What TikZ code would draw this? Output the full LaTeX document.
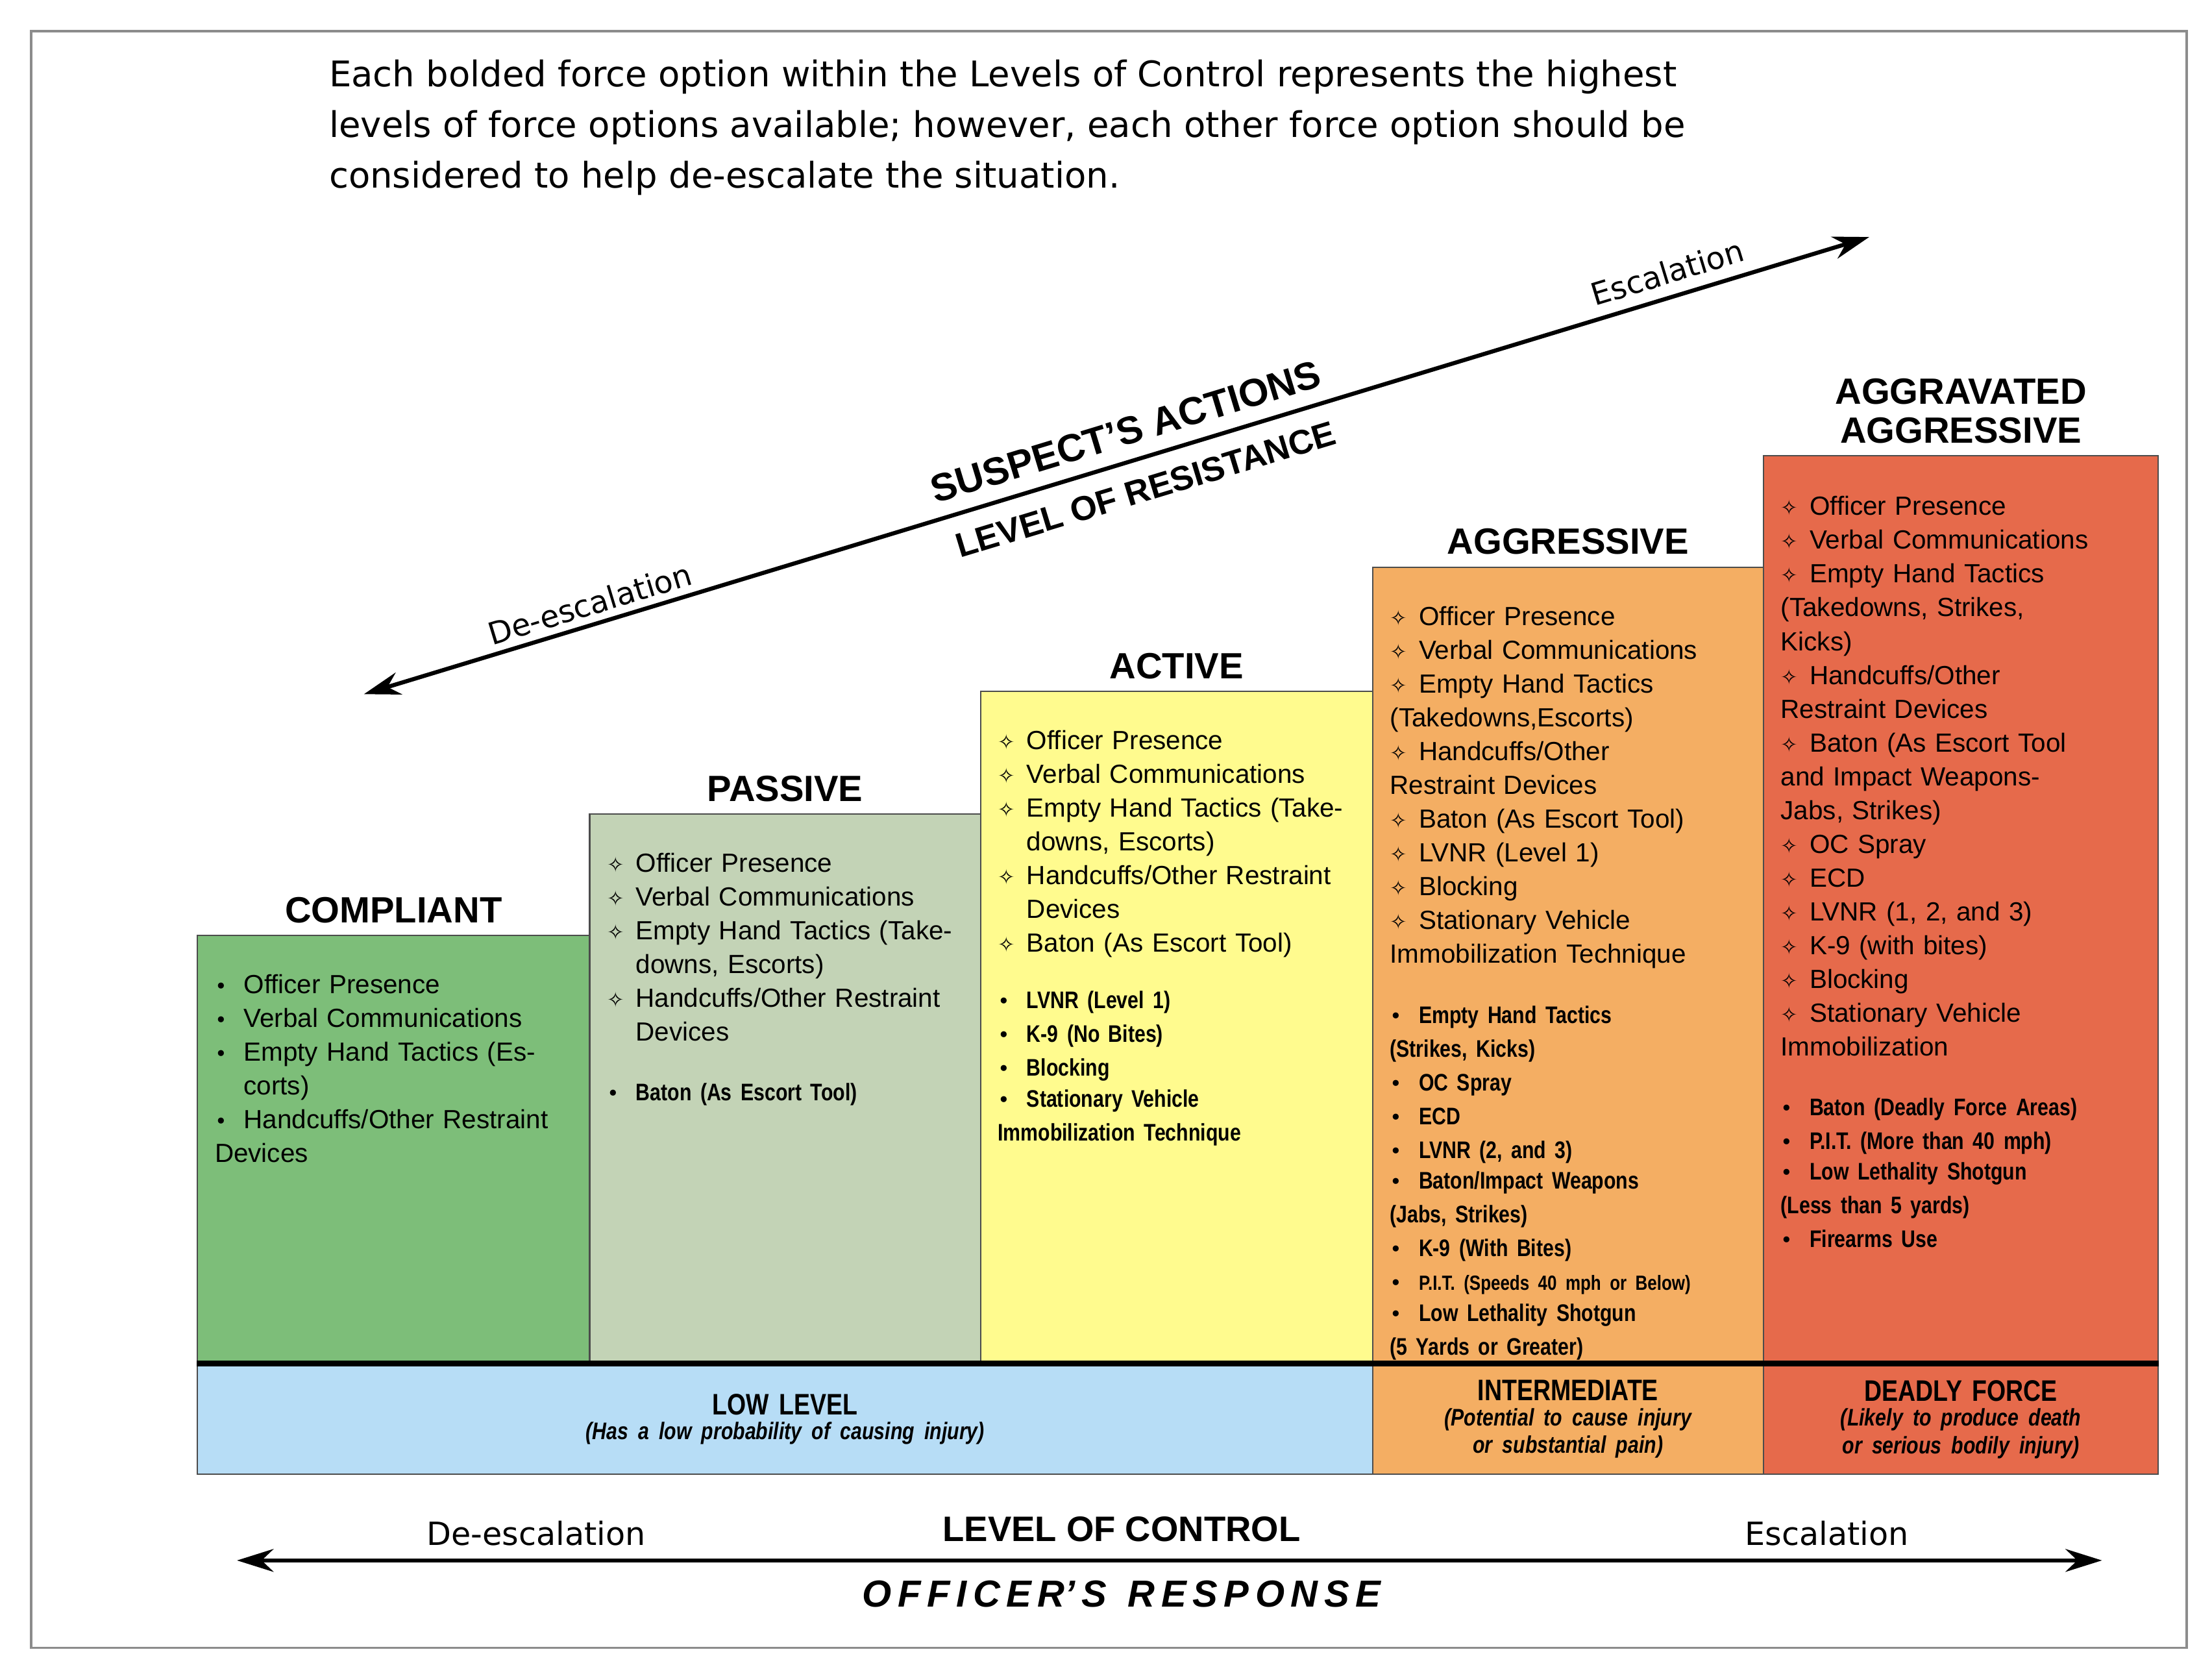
\documentclass[tikz,border=0pt]{standalone}
\usepackage{fontspec}
\setmainfont{Liberation Sans}
\newfontfamily\headfont{DejaVu Sans}
\newfontfamily\symfont{DejaVu Sans}
\newfontfamily\narrowfont[FakeStretch=0.82]{Liberation Sans}
\usepackage{tikz}
\usetikzlibrary{arrows.meta, positioning, fit}
\definecolor{compgreen}{HTML}{7DBE79}
\definecolor{passgrey}{HTML}{C3D3B6}
\definecolor{actyellow}{HTML}{FFFB8E}
\definecolor{aggorange}{HTML}{F4AE63}
\definecolor{aggred}{HTML}{E66A4B}
\definecolor{lowblue}{HTML}{B7DDF6}
\tikzstyle{colbox} = [rectangle, draw=black!70, line width=0.6pt, inner sep=0pt]
\tikzstyle{coltitle} = [font=\fontsize{16}{17}\selectfont\bfseries, align=center, inner sep=2pt]
\tikzstyle{optlist} = [anchor=north west, text width=5.6cm, align=left, inner sep=0pt, font=\fontsize{11.5}{14.8}\selectfont]
\tikzstyle{levelbox} = [text width=5.6cm, align=center, font=\narrowfont\bfseries\fontsize{13}{13}\selectfont]
\tikzstyle{arrow} = [line width=1.8pt, {Stealth[length=16pt,width=10pt]}-{Stealth[length=16pt,width=10pt]}]
\newcommand{\optitem}[1]{\par\hangindent=1.1em\hangafter=1\noindent\makebox[1.1em][l]{\symfont\small ✧}#1}
\newcommand{\boldopt}[1]{\par\hangindent=1.1em\hangafter=1\noindent\makebox[1.1em][l]{\symfont\small •}{\narrowfont\bfseries\fontsize{10.5}{13.5}\selectfont #1}}
\newcommand{\dotitem}[1]{\par\hangindent=1.1em\hangafter=1\noindent\makebox[1.1em][l]{\symfont\small •}#1}
\newcommand{\levelnote}[1]{\par\vspace{-1pt}{\itshape\fontsize{10.5}{12}\selectfont #1\par}}
\begin{document}
\begin{tikzpicture}[x=0.021735cm, y=-0.021735cm]
    \useasboundingbox (0,0) rectangle (1568,1189);
    \draw[black!45, line width=1pt] (22,22) rectangle (1550,1168);

    % Heading text
    \node[anchor=north west, align=left, inner sep=0pt, font=\headfont\fontsize{15.5}{22.2}\selectfont] (intro) at (233,42)
        {Each bolded force option within the Levels of Control represents the highest\\
         levels of force options available; however, each other force option should be\\
         considered to help de-escalate the situation.};

    % Resistance columns
    \node[colbox, fill=compgreen, fit={(140,663) (418,967)}] (compliant) {};
    \node[colbox, fill=passgrey, fit={(418,577) (695,967)}] (passive) {};
    \node[colbox, fill=actyellow, fit={(695,490) (973,967)}] (active) {};
    \node[colbox, fill=aggorange, fit={(973,402) (1250,967)}] (aggressive) {};
    \node[colbox, fill=aggred, fit={(1250,323) (1530,967)}] (aggravated) {};

    \node[coltitle, above=3pt of compliant] (tcomp) {COMPLIANT};
    \node[coltitle, above=3pt of passive] (tpass) {PASSIVE};
    \node[coltitle, above=3pt of active] (tact) {ACTIVE};
    \node[coltitle, above=3pt of aggressive] (tagg) {AGGRESSIVE};
    \node[coltitle, above=3pt of aggravated] (tagv) {AGGRAVATED\\AGGRESSIVE};

    % Force options
    \node[optlist] (lcomp) at (152,680) {%
        \dotitem{Officer Presence}\dotitem{Verbal Communications}
        \dotitem{Empty Hand Tactics (Escorts)}\dotitem{Handcuffs/Other Restraint Devices}};
    \node[optlist] (lpass) at (430,594) {%
        \optitem{Officer Presence}\optitem{Verbal Communications}
        \optitem{Empty Hand Tactics (Takedowns, Escorts)}\optitem{Handcuffs/Other Restraint Devices}
        \vspace{0.4cm}\boldopt{Baton (As Escort Tool)}};
    \node[optlist] (lact) at (707,507) {%
        \optitem{Officer Presence}\optitem{Verbal Communications}
        \optitem{Empty Hand Tactics (Takedowns, Escorts)}\optitem{Handcuffs/Other Restraint Devices}
        \optitem{Baton (As Escort Tool)}
        \vspace{0.35cm}\boldopt{LVNR (Level 1)}\boldopt{K-9 (No Bites)}\boldopt{Blocking}
        \boldopt{Stationary Vehicle\\Immobilization Technique}};
    \node[optlist, text width=5.9cm] (lagg) at (985,419) {%
        \optitem{Officer Presence}\optitem{Verbal Communications}
        \optitem{Empty Hand Tactics\\(Takedowns,Escorts)}\optitem{Handcuffs/Other\\Restraint Devices}
        \optitem{Baton (As Escort Tool)}\optitem{LVNR (Level 1)}\optitem{Blocking}
        \optitem{Stationary Vehicle\\Immobilization Technique}
        \vspace{0.45cm}\boldopt{Empty Hand Tactics\\(Strikes, Kicks)}\boldopt{OC Spray}\boldopt{ECD}
        \boldopt{LVNR (2, and 3)}\boldopt{Baton/Impact Weapons\\(Jabs, Strikes)}
        \boldopt{K-9 (With Bites)}\boldopt{{\fontsize{9}{12}\selectfont P.I.T. (Speeds 40 mph or Below)}}
        \boldopt{Low Lethality Shotgun\\(5 Yards or Greater)}};
    \node[optlist] (lagv) at (1262,341) {%
        \optitem{Officer Presence}\optitem{Verbal Communications}
        \optitem{Empty Hand Tactics\\(Takedowns, Strikes,\\Kicks)}\optitem{Handcuffs/Other\\Restraint Devices}
        \optitem{Baton (As Escort Tool\\and Impact Weapons-\\Jabs, Strikes)}
        \optitem{OC Spray}\optitem{ECD}\optitem{LVNR (1, 2, and 3)}\optitem{K-9 (with bites)}
        \optitem{Blocking}\optitem{Stationary Vehicle\\Immobilization}
        \vspace{0.4cm}\boldopt{Baton (Deadly Force Areas)}\boldopt{P.I.T. (More than 40 mph)}
        \boldopt{Low Lethality Shotgun\\(Less than 5 yards)}\boldopt{Firearms Use}};

    % Levels of control
    \node[colbox, fill=lowblue, fit={(140,967) (973,1045)}] (low) {};
    \node[colbox, fill=aggorange, fit={(973,967) (1250,1045)}] (inter) {};
    \node[colbox, fill=aggred, fit={(1250,967) (1530,1045)}] (deadly) {};
    \draw[line width=2.5pt] (low.north west) -- (deadly.north east);
    \node[levelbox, text width=10cm] (tlow) at (low) {LOW LEVEL\levelnote{(Has a low probability of causing injury)}};
    \node[levelbox] (tinter) at (inter) {INTERMEDIATE\levelnote{(Potential to cause injury\\or substantial pain)}};
    \node[levelbox] (tdeadly) at (deadly) {DEADLY FORCE\levelnote{(Likely to produce death\\or serious bodily injury)}};

    % Suspect's actions arrow
    \coordinate (sup) at (1325,168);
    \coordinate (sdown) at (258,492);
    \draw[arrow] (sdown) -- (sup);
    \node[rotate=16.9, font=\headfont\fontsize{13.5}{14}\selectfont] at (1182,193) {Escalation};
    \node[rotate=16.9, font=\headfont\fontsize{13.5}{14}\selectfont] at (418,428) {De-escalation};
    \node[rotate=16.9, font=\fontsize{17}{18}\selectfont\bfseries] at (798,306) {SUSPECT'S ACTIONS};
    \node[rotate=16.9, font=\fontsize{15}{16}\selectfont\bfseries] at (812,347) {LEVEL OF RESISTANCE};

    % Officer's response arrow
    \coordinate (oleft) at (168,1106);
    \coordinate (oright) at (1490,1106);
    \draw[arrow] (oleft) -- (oright);
    \node[font=\headfont\fontsize{14}{15}\selectfont] at (380,1087) {De-escalation};
    \node[font=\fontsize{15.5}{16}\selectfont\bfseries] at (795,1084) {LEVEL OF CONTROL};
    \node[font=\headfont\fontsize{14}{15}\selectfont] at (1295,1087) {Escalation};
    \node[font=\fontsize{16.5}{17}\selectfont\bfseries\itshape] at (795,1130) {O\,F\,F\,I\,C\,E\,R'\,S\; R\,E\,S\,P\,O\,N\,S\,E};
\end{tikzpicture}
\end{document}
